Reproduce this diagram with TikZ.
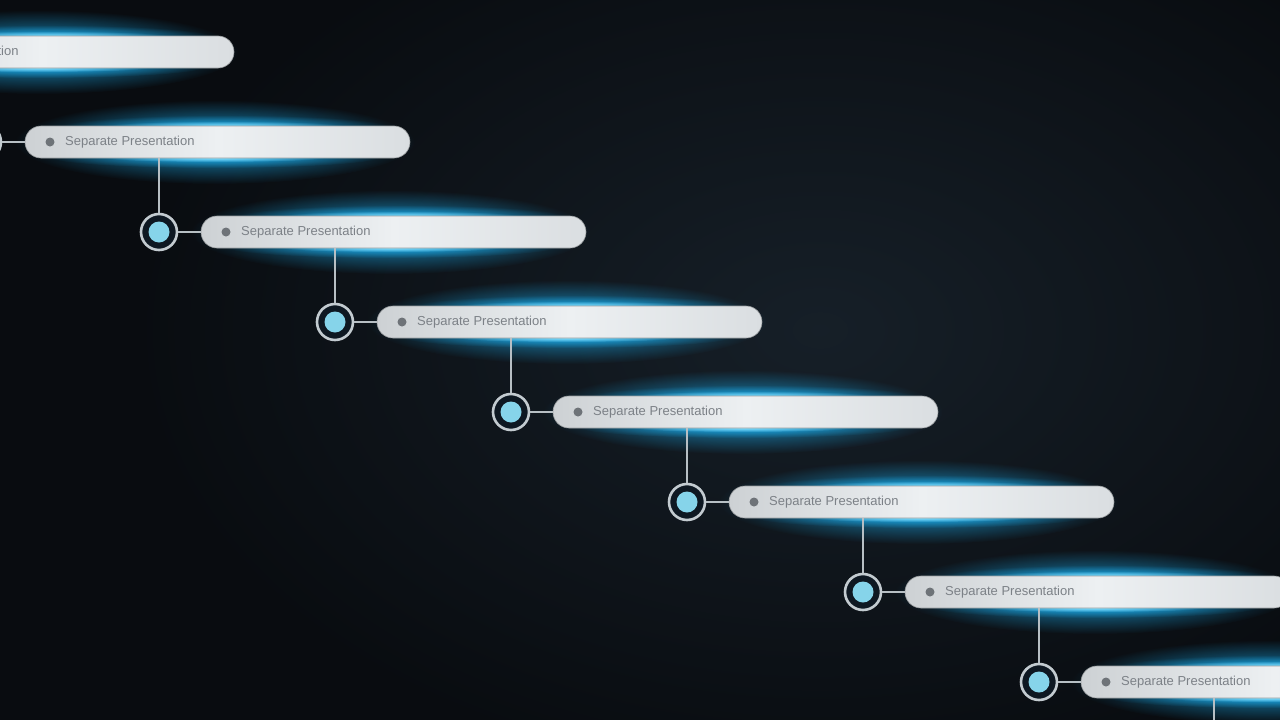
\documentclass[tikz,border=0pt]{standalone}
\usepackage{fontspec}
\setmainfont{Liberation Sans}
\usetikzlibrary{fadings}
\definecolor{bgc}{HTML}{090C10}
\definecolor{bgl}{HTML}{18222B}
\definecolor{glowc}{HTML}{1AAEEE}
\definecolor{glowb}{HTML}{8FE4FF}
\definecolor{pillL}{HTML}{CDD1D4}
\definecolor{pillM}{HTML}{EDF0F2}
\definecolor{pillR}{HTML}{DADEE1}
\definecolor{ringc}{HTML}{C3CBD0}
\definecolor{dotc}{HTML}{86D4EA}
\definecolor{holec}{HTML}{0E1822}
\definecolor{txtc}{HTML}{7C8187}
\definecolor{bulc}{HTML}{6E7378}
\definecolor{linec}{HTML}{B7BFC4}
\tikzfading[name=glowfade, inner color=transparent!10, outer color=transparent!100]
\tikzset{
  pill/.style={rectangle, rounded corners=16pt, minimum width=385pt, minimum height=32pt,
    left color=pillL, right color=pillR, middle color=pillM, draw=pillL!75!black, line width=0.6pt, inner sep=0pt},
  ring/.style={circle, minimum size=36pt, draw=ringc, line width=2.6pt, fill=holec, inner sep=0pt},
  core/.style={circle, minimum size=21pt, fill=dotc, inner sep=0pt},
  bullet/.style={circle, minimum size=9pt, fill=bulc, inner sep=0pt},
  ptext/.style={text=txtc, font=\fontsize{13}{15}\selectfont, inner sep=0pt, anchor=west},
  conn/.style={draw=linec, line width=2pt},
}
\begin{document}
\begin{tikzpicture}[x=1pt,y=-1pt]
\useasboundingbox (0,0) rectangle (1280,720);
\clip (0,0) rectangle (1280,720);
\fill[bgc] (0,0) rectangle (1280,720);
\fill[bgl, path fading=glowfade] (820,330) ellipse (700 and 460);
% glows
\foreach \i in {0,...,7}{
  \pgfmathsetmacro{\L}{25+176*(\i-1)}
  \pgfmathsetmacro{\Y}{52+90*\i}
  \fill[glowc, path fading=glowfade] (\L+190,\Y) ellipse (200 and 42);
  \fill[glowc, path fading=glowfade] (\L+200,\Y-15) ellipse (165 and 12);
  \fill[glowb, path fading=glowfade] (\L+200,\Y-16) ellipse (120 and 5);
  \fill[glowc, path fading=glowfade] (\L+190,\Y+15) ellipse (165 and 11);
  \fill[glowb, path fading=glowfade] (\L+190,\Y+16) ellipse (110 and 4);
}
% pills and circles
\foreach \i in {0,...,7}{
  \pgfmathsetmacro{\L}{25+176*(\i-1)}
  \pgfmathsetmacro{\Y}{52+90*\i}
  \node[pill] (p\i) at (\L+192.5,\Y) {};
  \node[bullet] (b\i) at (\L+25,\Y) {};
  \node[ptext] (t\i) at (\L+40,\Y) {Separate Presentation};
  \node[ring] (c\i) at (\L-42,\Y) {};
  \node[core] (d\i) at (c\i) {};
  \draw[conn] (c\i.east) -- (p\i.west);
}
\foreach \i [remember=\i as \j (initially 0)] in {1,...,7}{
  \draw[conn] (p\j.south -| c\i.north) -- (c\i.north);
}
\coordinate (end) at (1214,725);
\draw[conn] (p7.south -| end) -- (end);
\end{tikzpicture}
\end{document}
